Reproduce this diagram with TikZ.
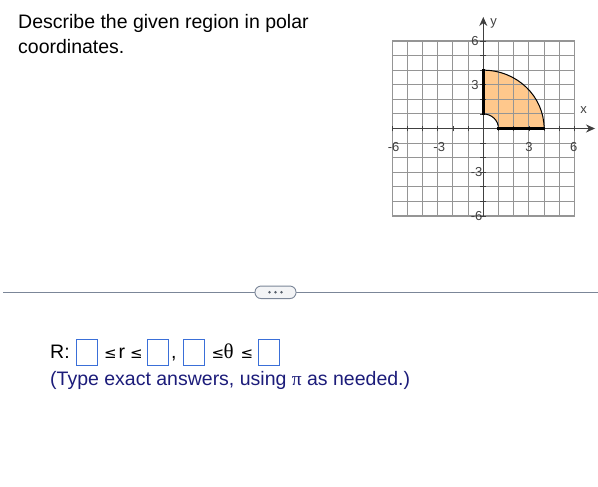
\documentclass[tikz,border=0pt]{standalone}
\usepackage{fontspec}
\setmainfont{Liberation Sans}
\usetikzlibrary{arrows.meta}
\definecolor{gridc}{HTML}{959595}
\definecolor{axisc}{HTML}{404040}
\definecolor{regfill}{HTML}{FFC88C}
\definecolor{boxc}{HTML}{3A6FD8}
\definecolor{navy}{HTML}{1C1C7A}
\definecolor{sepc}{HTML}{7B8698}
\definecolor{btnfill}{HTML}{F3F4F6}
\begin{document}
\begin{tikzpicture}[x=1pt,y=-1pt,
  qtext/.style={font=\fontsize{19.5}{23}\selectfont, anchor=base west, inner sep=0pt, text=black},
  ansbox/.style={draw=boxc, line width=1pt, minimum width=21pt, minimum height=26pt, inner sep=0pt, anchor=north west},
  lesym/.style={font=\fontspec{DejaVu Sans}\fontsize{15}{17}\selectfont, anchor=base west, inner sep=0pt},
  ticklab/.style={font=\fontsize{13}{13}\selectfont, text=axisc, inner sep=0pt},
  thickedge/.style={line width=2.6pt, line cap=rect}
]
\useasboundingbox (0,0) rectangle (598,487);
\fill[white] (0,0) rectangle (598,487);

% question
\node[qtext] (q1) at (18,28.3) {Describe the given region in polar};
\node[qtext] (q2) at (18,53.3) {coordinates.};

% graph
\begin{scope}[shift={(483.3,128.5)}, x=15.2pt, y=14.58pt]
  \fill[regfill] (0,1) -- (0,4) arc[start angle=90,end angle=0,radius=4] -- (1,0) arc[start angle=0,end angle=90,radius=1] -- cycle;
  \draw[gridc, line width=1.1pt, step=1] (-6,-6) grid (6,6);
  \draw[black, line width=1pt] (0,4) arc[start angle=90,end angle=0,radius=4];
  \draw[black, line width=1pt] (1,0) arc[start angle=0,end angle=90,radius=1];
  \coordinate (xl) at (-6,0);
  \coordinate (xr) at (7.35,0);
  \coordinate (yb) at (0,-6);
  \coordinate (yt) at (0,7.65);
  \draw[axisc, line width=1pt, -{Stealth[length=9pt,width=8pt]}] (xl) -- (xr);
  \draw[axisc, line width=1pt, -{Stealth[length=9pt,width=8pt]}] (yb) -- (yt);
  \foreach \k in {-6,...,6} {
    \draw[axisc, line width=0.8pt] (\k,-0.2) -- (\k,0.2);
    \draw[axisc, line width=0.8pt] (-0.2,\k) -- (0.2,\k);
  }
  \draw[black, thickedge] (0,1) -- (0,4);
  \draw[black, thickedge] (1,0) -- (4,0);
  \node[ticklab, anchor=east] (ly6) at (-0.3,6) {6};
  \node[ticklab, anchor=east] (ly3) at (-0.3,3) {3};
  \node[ticklab, anchor=east] (lym3) at (-0.05,-3) {-3};
  \node[ticklab, anchor=east] (lym6) at (-0.05,-6) {-6};
  \node[ticklab] (lxm6) at (-5.9,-1.25) {-6};
  \node[ticklab] (lxm3) at (-2.9,-1.25) {-3};
  \node[ticklab] (lx3) at (3,-1.25) {3};
  \node[ticklab] (lx6) at (5.95,-1.25) {6};
  \node[font=\fontsize{13}{13}\selectfont, text=axisc, inner sep=0pt, anchor=west] (ylab) at (0.45,7.2) {y};
  \node[font=\fontsize{13}{13}\selectfont, text=axisc, inner sep=0pt] (xlab) at (6.6,1.25) {x};
\end{scope}

% separator
\coordinate (sl) at (3,292.3);
\coordinate (sr) at (598,292.3);
\draw[sepc, line width=0.8pt] (sl) -- (sr);
\node[draw=sepc, fill=btnfill, line width=0.9pt, rounded corners=6pt, minimum width=41pt, minimum height=12.5pt, inner sep=0pt] (btn) at (275.5,292.3) {};
\foreach \dx in {-6,0,6} \fill[sepc!70!black] ([xshift=\dx pt]btn.center) circle (1.4pt);

% answer line
\node[qtext] (R) at (50,358) {R:};
\node[ansbox] (b1) at (75.5,338.5) {};
\node[lesym] (le1) at (104,358) {≤};
\node[qtext] (r) at (118.5,358) {r};
\node[lesym] (le2) at (130,358) {≤};
\node[ansbox] (b2) at (146.5,338.5) {};
\node[qtext] (comma) at (171,358) {,};
\node[ansbox] (b3) at (183,338.5) {};
\node[lesym] (le3) at (211.5,358) {≤};
\node[qtext] (th) at (223.5,358) {\fontspec{Liberation Serif}\fontsize{21}{23}\selectfont θ};
\node[lesym] (le4) at (240.5,358) {≤};
\node[ansbox] (b4) at (258,338.5) {};
\node[qtext, text=navy] (hint) at (50,385.5) {(Type exact answers, using {\fontspec{Liberation Serif}π} as needed.)};
\end{tikzpicture}
\end{document}
